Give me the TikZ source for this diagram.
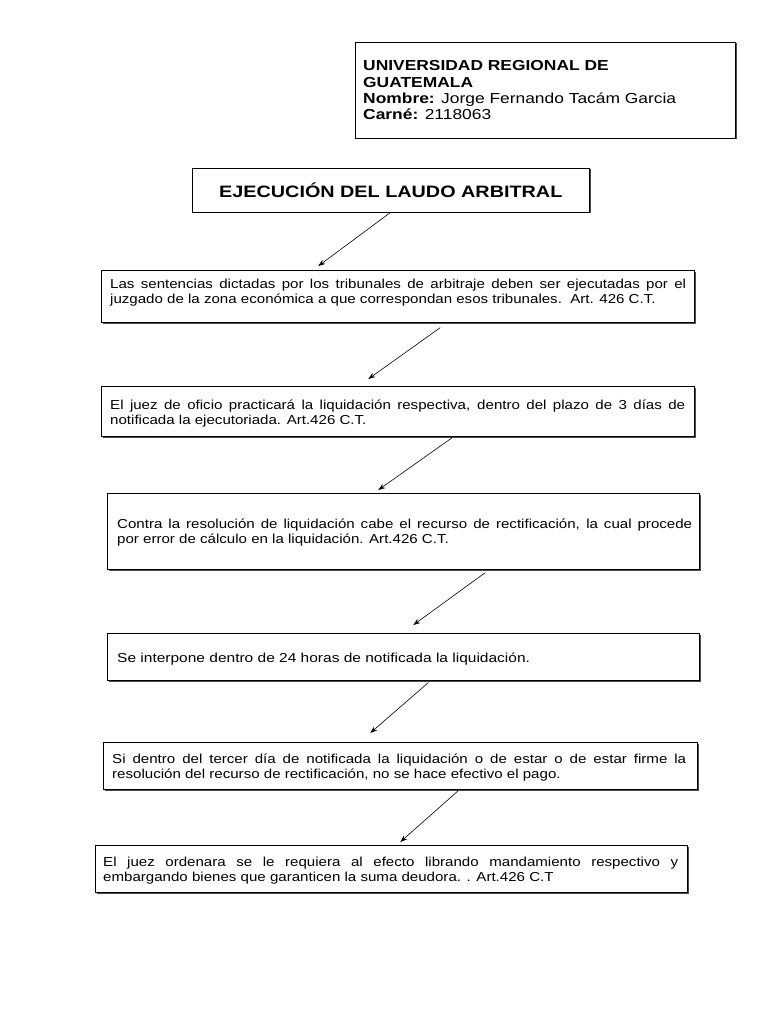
\documentclass[tikz,border=0pt]{standalone}
\usepackage{fontspec}
\usepackage{graphicx}
\setmainfont{Liberation Sans}[FakeStretch=1.2]
\newfontfamily\bodyfont{Liberation Sans}[FakeStretch=1.16]
\usepackage{tikz}
\usetikzlibrary{positioning,arrows.meta,shadows}

\begin{document}
\begin{tikzpicture}[x=1pt,y=-1pt,
  box/.style={draw, line width=0.6pt, anchor=north west, inner sep=0pt, fill=white,
    drop shadow={shadow xshift=1.2pt, shadow yshift=-1.2pt, fill=black!70, opacity=1}},
  txt/.style={inner sep=0pt, text width=575pt, align=justify, font=\bodyfont\fontsize{13}{15.6}\selectfont},
  arr/.style={line width=0.6pt, -{Stealth[length=7pt,width=5pt]}}]
\useasboundingbox (0,0) rectangle (768,1024);
% Header
\node[box, minimum width=380pt, minimum height=96pt] (head) at (355,42) {};
\node[inner sep=0pt, align=left, anchor=north west, font=\fontsize{14.5}{16.2}\selectfont,
  below right=18.5pt and 8pt of head.north west] (headtxt)
  {\textbf{UNIVERSIDAD REGIONAL DE}\\\textbf{GUATEMALA}\\
   \textbf{Nombre:} Jorge Fernando Tacám Garcia\\\textbf{Carné:} 2118063};
% Title
\node[box, minimum width=397pt, minimum height=44pt, font=\fontsize{16.5}{18}\selectfont\bfseries] (title) at (192,168)
  {EJECUCIÓN DEL LAUDO ARBITRAL};
% Steps
\node[box, minimum width=593pt, minimum height=52pt] (b1) at (101,270) {};
\node[txt, text width=576pt, below right=8.5pt and 9pt of b1.north west] (t1)
  {Las sentencias dictadas por los tribunales de arbitraje deben ser ejecutadas por el\linebreak juzgado de la zona económica a que correspondan esos tribunales.\ \ Art. 426 C.T.};
\node[box, minimum width=593pt, minimum height=50pt] (b2) at (101,386) {};
\node[txt, below right=13.5pt and 9pt of b2.north west] (t2)
  {El juez de oficio practicará la liquidación respectiva, dentro del plazo de 3 días de\linebreak notificada la ejecutoriada. Art.426 C.T.};
\node[box, minimum width=592pt, minimum height=76pt] (b3) at (107,493) {};
\node[txt, below right=25.5pt and 10pt of b3.north west] (t3)
  {Contra la resolución de liquidación cabe el recurso de rectificación, la cual procede\linebreak por error de cálculo en la liquidación. Art.426 C.T.};
\node[box, minimum width=592pt, minimum height=47pt] (b4) at (107,633) {};
\node[txt, below right=19.5pt and 10pt of b4.north west] (t4)
  {\scalebox{1.028}[1]{Se interpone dentro de 24 horas de notificada la liquidación.}};
\node[box, minimum width=594pt, minimum height=47pt] (b5) at (103,742) {};
\node[txt, text width=574pt, below right=11.5pt and 9pt of b5.north west] (t5)
  {Si dentro del tercer día de notificada la liquidación o de estar o de estar firme la\linebreak resolución del recurso de rectificación, no se hace efectivo el pago.};
\node[box, minimum width=592pt, minimum height=47pt] (b6) at (95,845) {};
\node[txt, below right=11.5pt and 8pt of b6.north west] (t6)
  {El juez ordenara se le requiera al efecto librando mandamiento respectivo y\linebreak embargando bienes que garanticen la suma deudora. . Art.426 C.T};
% Arrows
\draw[arr] ([xshift=-0.5pt]title.south) -- ([xshift=-79.5pt,yshift=4pt]b1.north);
\draw[arr] ([xshift=42.5pt,yshift=-5pt]b1.south) -- ([xshift=-29.5pt,yshift=7pt]b2.north);
\draw[arr] ([xshift=54.5pt,yshift=-1pt]b2.south) -- ([xshift=-25pt,yshift=3pt]b3.north);
\draw[arr] ([xshift=82pt,yshift=-3pt]b3.south) -- ([xshift=10pt,yshift=8pt]b4.north);
\draw[arr] ([xshift=25pt,yshift=-2pt]b4.south) -- ([xshift=-30pt,yshift=9pt]b5.north);
\draw[arr] ([xshift=58pt,yshift=-1pt]b5.south) -- ([xshift=9pt,yshift=3pt]b6.north);
\end{tikzpicture}
\end{document}
